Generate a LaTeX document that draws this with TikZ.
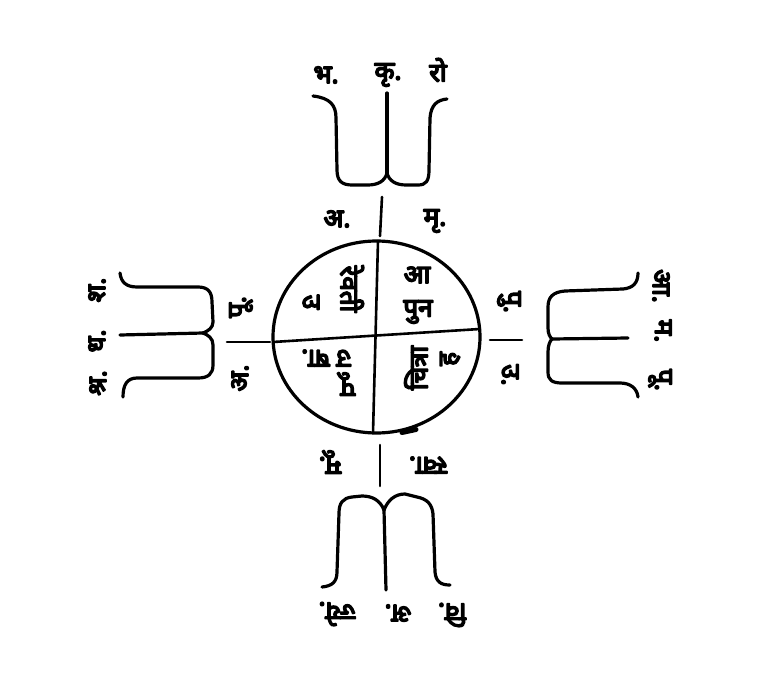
\documentclass[tikz,border=0pt]{standalone}
\usepackage{fontspec}
\newfontfamily\dev[Script=Devanagari]{Noto Sans}
\begin{document}
\begin{tikzpicture}[x=1bp,y=-1bp,line width=3.2bp,line cap=round,line join=round,
  lbl/.style={font=\dev\fontsize{26}{26}\selectfont,inner sep=0pt,
    execute at begin node={\special{pdf:literal direct 2 Tr 1.6 w}},
    execute at end node={\special{pdf:literal direct 0 Tr}}},
  ink/.style={draw=black}]
\useasboundingbox[fill=white] (0,0) rectangle (783,682);
% circle and dividers
\draw[ink] (376.5,337) ellipse [x radius=103.5,y radius=96];
\draw[ink,line width=5bp] (402,432.5) -- (416,429.5);
\draw[ink,line width=2.6bp] (273,342) -- (480,329);
\draw[ink,line width=2.6bp] (378,241) -- (373,433);
% inner connector lines
\coordinate (tA) at (382,197); \coordinate (tB) at (380,236);
\coordinate (bA) at (380,445); \coordinate (bB) at (380,486);
\coordinate (lA) at (227,342); \coordinate (lB) at (270,342);
\coordinate (rA) at (490,340); \coordinate (rB) at (522,340);
\draw[ink,line width=2.6bp] (tA) -- (tB);
\draw[ink,line width=2.6bp] (bA) -- (bB);
\draw[ink,line width=2.6bp] (lA) -- (lB);
\draw[ink,line width=2.6bp] (rA) -- (rB);
% top brace (prongs up)
\coordinate (tT) at (387,173);
\draw[ink] (313,96) .. controls (330,98) and (336,105) .. (336,118) -- (337,170)
  .. controls (337,181) and (342,185) .. (352,185) -- (368,185)
  .. controls (378,185) and (385,181) .. (tT);
\draw[ink] (tT) .. controls (389,181) and (396,185) .. (406,185) -- (418,185)
  .. controls (426,185) and (429,181) .. (429,170) -- (430,118)
  .. controls (431,105) and (437,100) .. (447,99);
\draw[ink] (tT) -- (387,93);
% bottom brace (prongs down)
\coordinate (bT) at (384,510);
\draw[ink] (bT) .. controls (380,500) and (372,496) .. (362,496) -- (352,497)
  .. controls (343,498) and (339,503) .. (339,513) -- (337,572)
  .. controls (337,582) and (332,586) .. (322,587);
\draw[ink] (bT) .. controls (388,500) and (395,494) .. (405,494) -- (417,497)
  .. controls (427,499) and (432,504) .. (433,514) -- (435,572)
  .. controls (436,582) and (441,585) .. (450,585);
\draw[ink] (bT) -- (386,590);
% left brace (prongs left)
\coordinate (lT) at (203,333);
\draw[ink] (120,273) .. controls (121,282) and (126,287) .. (137,287) -- (198,287)
  .. controls (208,287) and (212,292) .. (212,302) -- (213,322)
  .. controls (213,328) and (208,331) .. (lT);
\draw[ink] (lT) .. controls (208,335) and (213,338) .. (213,345) -- (213,365)
  .. controls (213,374) and (208,378) .. (198,378) -- (137,378)
  .. controls (127,378) and (123,385) .. (123,397);
\draw[ink] (lT) -- (120,335);
% right brace (prongs right)
\coordinate (rT) at (552,339);
\draw[ink] (638,273) .. controls (638,283) and (633,288) .. (623,289) -- (565,291)
  .. controls (553,292) and (548,297) .. (548,307) -- (548,328)
  .. controls (548,334) and (550,337) .. (rT);
\draw[ink] (rT) .. controls (550,341) and (548,345) .. (548,352) -- (548,372)
  .. controls (548,380) and (552,383) .. (562,383) -- (620,383)
  .. controls (630,383) and (637,388) .. (638,397);
\draw[ink] (rT) -- (628,338);
% top labels
\node[lbl] (t1) at (326,75) {भ.};
\node[lbl] (t2) at (388,75) {कृ.};
\node[lbl] (t3) at (438,70) {रो};
\node[lbl] (t4) at (337,219) {अ.};
\node[lbl] (t5) at (435,221) {मृ.};
% quadrant labels
\node[lbl] (q1) at (417,275) {आ};
\node[lbl] (q2) at (418,312) {पुन};
\node[lbl,rotate=-90] (q3) at (352,289) {रेवती};
\node[lbl,rotate=-90] (q4) at (311,302) {उ};
\node[lbl,rotate=90] (q5) at (416,368) {चित्रा};
\node[lbl,rotate=90] (q6) at (450,359) {ह};
\node[lbl,rotate=180] (q7) at (326,358) {उ षा.};
\node[lbl,rotate=180] (q8) at (348,384) {पू};
% bottom labels
\node[lbl,rotate=180] (b1) at (330,462) {मू.};
\node[lbl,rotate=180] (b2) at (428,465) {स्वा.};
\node[lbl,rotate=180] (b3) at (337,614) {ज्ये.};
\node[lbl,rotate=180] (b4) at (398,613) {अ.};
\node[lbl,rotate=180] (b5) at (452,615) {वि.};
% left labels
\node[lbl,rotate=90] (l1) at (97,290) {श.};
\node[lbl,rotate=90] (l2) at (97,341) {ध.};
\node[lbl,rotate=90] (l3) at (98,383) {श्र.};
\node[lbl,rotate=90] (l4) at (241,307) {पू.};
\node[lbl,rotate=90] (l5) at (240,378) {अ.};
% right labels
\node[lbl,rotate=-90] (r1) at (661,286) {आ.};
\node[lbl,rotate=-90] (r2) at (663,331) {म.};
\node[lbl,rotate=-90] (r3) at (660,380) {पू.};
\node[lbl,rotate=-90] (r4) at (509,302) {पु.};
\node[lbl,rotate=-90] (r5) at (510,375) {उ.};
\end{tikzpicture}
\end{document}
